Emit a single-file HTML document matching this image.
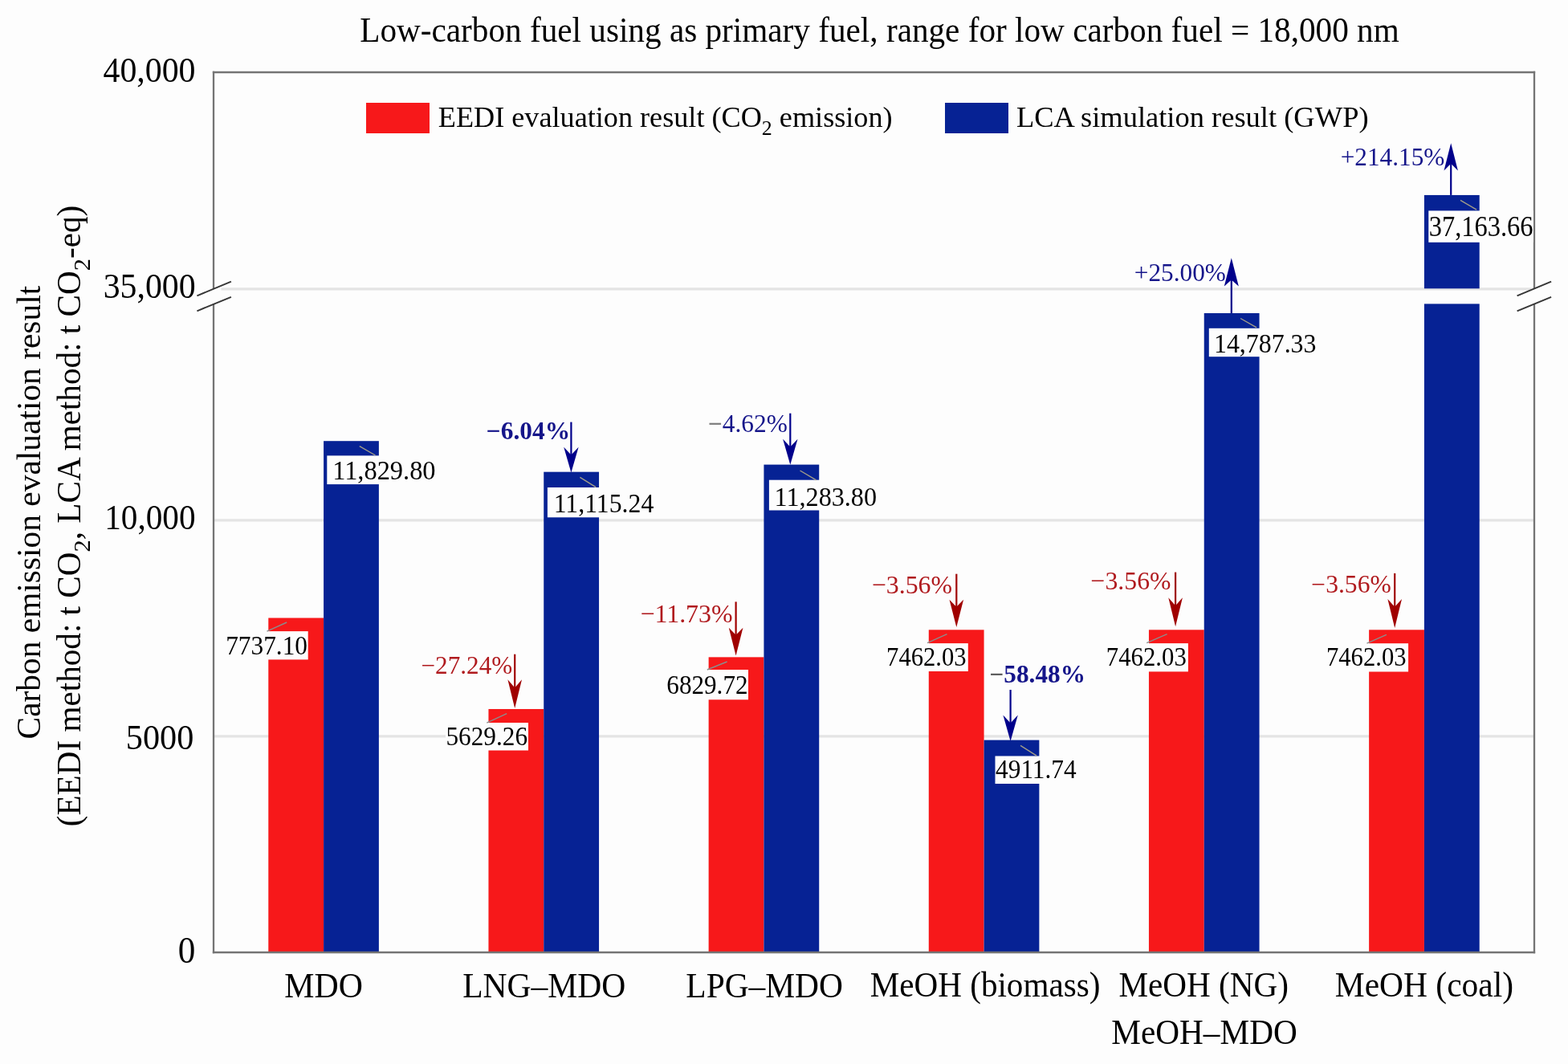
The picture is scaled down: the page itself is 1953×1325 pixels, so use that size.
<!DOCTYPE html><html><head><meta charset="utf-8"><title>Carbon emission evaluation result</title>
<style>html,body{margin:0;padding:0;background:#FDFDFD;overflow:hidden}svg{display:block}</style></head><body>
<svg width="1953" height="1325" viewBox="0 0 1953 1325" font-family="'Liberation Serif', 'Times New Roman', serif">
<rect width="1953" height="1325" fill="#FDFDFD"/>
<line x1="266.0" y1="916.8" x2="1911.0" y2="916.8" stroke="#E4E4E4" stroke-width="3.2"/>
<line x1="266.0" y1="647.8" x2="1911.0" y2="647.8" stroke="#E4E4E4" stroke-width="3.2"/>
<line x1="275.5" y1="359.8" x2="1907.6" y2="359.8" stroke="#E4E4E4" stroke-width="3.2"/>
<rect x="334.28" y="769.51" width="68.8" height="416.49" fill="#F7181A"/>
<rect x="403.08" y="549.20" width="68.8" height="636.80" fill="#062294"/>
<rect x="608.45" y="882.98" width="68.8" height="303.02" fill="#F7181A"/>
<rect x="677.25" y="587.67" width="68.8" height="598.33" fill="#062294"/>
<rect x="882.62" y="818.36" width="68.8" height="367.64" fill="#F7181A"/>
<rect x="951.42" y="578.59" width="68.8" height="607.41" fill="#062294"/>
<rect x="1156.78" y="784.32" width="68.8" height="401.68" fill="#F7181A"/>
<rect x="1225.58" y="921.60" width="68.8" height="264.40" fill="#062294"/>
<rect x="1430.95" y="784.32" width="68.8" height="401.68" fill="#F7181A"/>
<rect x="1499.75" y="390.00" width="68.8" height="796.00" fill="#062294"/>
<rect x="1705.12" y="784.32" width="68.8" height="401.68" fill="#F7181A"/>
<rect x="1773.92" y="242.94" width="68.8" height="116.36" fill="#062294"/>
<rect x="1773.92" y="378.4" width="68.8" height="807.60" fill="#062294"/>
<g stroke="#747474" stroke-width="2.3" fill="none" stroke-linecap="square">
<line x1="266.0" y1="90.0" x2="1911.0" y2="90.0"/>
<line x1="266.0" y1="1186.0" x2="1911.0" y2="1186.0"/>
<line x1="266.0" y1="90.0" x2="266.0" y2="358.6"/>
<line x1="266.0" y1="379.6" x2="266.0" y2="1186.0"/>
<line x1="1911.0" y1="90.0" x2="1911.0" y2="358.6"/>
<line x1="1911.0" y1="379.6" x2="1911.0" y2="1186.0"/>
</g>
<g stroke="#363636" stroke-width="2.0">
<line x1="245.4" y1="368.3" x2="287.9" y2="350.7"/>
<line x1="245.4" y1="387.3" x2="287.9" y2="369.8"/>
<line x1="1889.6" y1="368.3" x2="1932.1" y2="350.7"/>
<line x1="1889.6" y1="387.3" x2="1932.1" y2="369.8"/>
</g>
<rect x="456" y="128" width="79" height="38" fill="#F7181A"/>
<rect x="1177" y="128" width="79" height="38" fill="#062294"/>
<rect x="281" y="786.1" width="102.70" height="35.30" fill="#FDFDFD"/>
<line x1="332.5" y1="786.1" x2="357.2" y2="775" stroke="#8C8C8C" stroke-width="1.4"/>
<rect x="407.3" y="567.4" width="136.70" height="35.70" fill="#FDFDFD"/>
<line x1="447.8" y1="555.6" x2="467.5" y2="567" stroke="#A29D88" stroke-width="1.4"/>
<rect x="555" y="900" width="103.00" height="34.50" fill="#FDFDFD"/>
<line x1="606.3" y1="900.2" x2="631.2" y2="888.6" stroke="#8C8C8C" stroke-width="1.4"/>
<rect x="681.9" y="607" width="135.10" height="37.30" fill="#FDFDFD"/>
<line x1="722.4" y1="594.3" x2="742.1" y2="606.6" stroke="#A29D88" stroke-width="1.4"/>
<rect x="829.5" y="834" width="102.50" height="37.30" fill="#FDFDFD"/>
<line x1="880.8" y1="834" x2="905.6" y2="824" stroke="#8C8C8C" stroke-width="1.4"/>
<rect x="957.9" y="597.7" width="135.10" height="37.80" fill="#FDFDFD"/>
<line x1="996.5" y1="586" x2="1016.6" y2="597.9" stroke="#A29D88" stroke-width="1.4"/>
<rect x="1104" y="801.1" width="101.80" height="34.90" fill="#FDFDFD"/>
<line x1="1155" y1="800.7" x2="1179.5" y2="789.7" stroke="#8C8C8C" stroke-width="1.4"/>
<rect x="1239.5" y="941.5" width="103.50" height="34.50" fill="#FDFDFD"/>
<line x1="1271" y1="928.4" x2="1291.1" y2="941.1" stroke="#A29D88" stroke-width="1.4"/>
<rect x="1378" y="801.1" width="101.90" height="35.30" fill="#FDFDFD"/>
<line x1="1428.2" y1="800.7" x2="1453.6" y2="789.7" stroke="#8C8C8C" stroke-width="1.4"/>
<rect x="1505.8" y="408.8" width="135.20" height="35.40" fill="#FDFDFD"/>
<line x1="1545.1" y1="396.5" x2="1565.1" y2="407.9" stroke="#A29D88" stroke-width="1.4"/>
<rect x="1652" y="801.2" width="102.10" height="35.30" fill="#FDFDFD"/>
<line x1="1702.5" y1="801.2" x2="1726.9" y2="790.3" stroke="#8C8C8C" stroke-width="1.4"/>
<rect x="1779.3" y="262.4" width="130.60" height="39.40" fill="#FDFDFD"/>
<line x1="1819" y1="249.3" x2="1839.1" y2="261.2" stroke="#A29D88" stroke-width="1.4"/>
<line x1="641.2" y1="814.7" x2="641.2" y2="857.50" stroke="#A00000" stroke-width="2.2"/>
<path d="M641.2,881.9 L632.40,846.30 L641.2,856.50 L650.00,846.30 Z" fill="#A00000"/>
<line x1="916.6" y1="749.4" x2="916.6" y2="791.80" stroke="#A00000" stroke-width="2.2"/>
<path d="M916.6,816.6 L907.80,781.80 L916.6,790.80 L925.40,781.80 Z" fill="#A00000"/>
<line x1="1191.3" y1="714.7" x2="1191.3" y2="756.70" stroke="#A00000" stroke-width="2.2"/>
<path d="M1191.3,781.1 L1182.50,746.70 L1191.3,755.70 L1200.10,746.70 Z" fill="#A00000"/>
<line x1="1464.1" y1="712.6" x2="1464.1" y2="755.20" stroke="#A00000" stroke-width="2.2"/>
<path d="M1464.1,780.2 L1455.30,744.20 L1464.1,754.20 L1472.90,744.20 Z" fill="#A00000"/>
<line x1="1737.2" y1="713.9" x2="1737.2" y2="756.70" stroke="#A00000" stroke-width="2.2"/>
<path d="M1737.2,781.9 L1728.40,745.90 L1737.2,755.70 L1746.00,745.90 Z" fill="#A00000"/>
<line x1="711.4" y1="525.6" x2="711.4" y2="567.60" stroke="#00008B" stroke-width="2.2"/>
<path d="M711.4,588.6 L702.20,556.70 L711.4,566.60 L720.60,556.70 Z" fill="#00008B"/>
<line x1="984.3" y1="514.7" x2="984.3" y2="557.60" stroke="#00008B" stroke-width="2.2"/>
<path d="M984.3,578.7 L975.10,546.80 L984.3,556.60 L993.50,546.80 Z" fill="#00008B"/>
<line x1="1258.6" y1="859.0" x2="1258.6" y2="901.60" stroke="#00008B" stroke-width="2.2"/>
<path d="M1258.6,923.0 L1249.40,890.60 L1258.6,900.60 L1267.80,890.60 Z" fill="#00008B"/>
<line x1="1533.8" y1="390.0" x2="1533.8" y2="347.60" stroke="#00008B" stroke-width="2.2"/>
<path d="M1533.8,321.3 L1524.80,356.60 L1533.8,348.60 L1542.80,356.60 Z" fill="#00008B"/>
<line x1="1807.2" y1="242.9" x2="1807.2" y2="202.80" stroke="#00008B" stroke-width="2.2"/>
<path d="M1807.2,178.2 L1798.50,212.50 L1807.2,203.80 L1815.90,212.50 Z" fill="#00008B"/>
<text transform="translate(448.26,52.00) scale(1,1.07)" font-size="41.22" font-weight="normal" fill="#000">Low-carbon fuel using as primary fuel, range for low carbon fuel = 18,000 nm</text>
<text transform="translate(128.46,101.60) scale(1,1.07)" font-size="41.86" font-weight="normal" fill="#000">40,000</text>
<text transform="translate(128.66,371.20) scale(1,1.07)" font-size="41.79" font-weight="normal" fill="#000">35,000</text>
<text transform="translate(130.29,659.40) scale(1,1.07)" font-size="41.18" font-weight="normal" fill="#000">10,000</text>
<text transform="translate(156.86,932.70) scale(1,1.07)" font-size="42.26" font-weight="normal" fill="#000">5000</text>
<text transform="translate(221.78,1199.30) scale(1,1.07)" font-size="43.10" font-weight="normal" fill="#000">0</text>
<text transform="translate(354.35,1241.50) scale(1,1.07)" font-size="41.81" font-weight="normal" fill="#000">MDO</text>
<text transform="translate(576.15,1241.50) scale(1,1.07)" font-size="41.56" font-weight="normal" fill="#000">LNG–MDO</text>
<text transform="translate(854.36,1241.50) scale(1,1.07)" font-size="41.42" font-weight="normal" fill="#000">LPG–MDO</text>
<text transform="translate(1083.67,1241.30) scale(1,1.07)" font-size="41.14" font-weight="normal" fill="#000">MeOH (biomass)</text>
<text transform="translate(1393.47,1241.30) scale(1,1.07)" font-size="41.17" font-weight="normal" fill="#000">MeOH (NG)</text>
<text transform="translate(1662.86,1241.30) scale(1,1.07)" font-size="41.46" font-weight="normal" fill="#000">MeOH (coal)</text>
<text transform="translate(1384.26,1299.50) scale(1,1.07)" font-size="41.26" font-weight="normal" fill="#000">MeOH–MDO</text>
<text transform="translate(545.81,158.00) scale(1,1.01)" font-size="36.20" font-weight="normal" fill="#000">EEDI evaluation result (CO<tspan font-size="0.716em" dy="0.369em">2</tspan><tspan dy="-0.264em"> emission)</tspan></text>
<text transform="translate(1265.91,158.00) scale(1,1.01)" font-size="36.49" font-weight="normal" fill="#000">LCA simulation result (GWP)</text>
<text transform="translate(281.21,814.50) scale(1,1.07)" font-size="31.32" font-weight="normal" fill="#000">7737.10</text>
<text transform="translate(414.18,596.50) scale(1,1.07)" font-size="32.40" font-weight="normal" fill="#000">11,829.80</text>
<text transform="translate(555.42,927.50) scale(1,1.07)" font-size="31.27" font-weight="normal" fill="#000">5629.26</text>
<text transform="translate(689.64,637.80) scale(1,1.07)" font-size="31.75" font-weight="normal" fill="#000">11,115.24</text>
<text transform="translate(830.35,863.60) scale(1,1.07)" font-size="31.14" font-weight="normal" fill="#000">6829.72</text>
<text transform="translate(964.50,630.20) scale(1,1.07)" font-size="32.19" font-weight="normal" fill="#000">11,283.80</text>
<text transform="translate(1104.05,829.40) scale(1,1.07)" font-size="30.67" font-weight="normal" fill="#000">7462.03</text>
<text transform="translate(1240.07,969.00) scale(1,1.07)" font-size="31.32" font-weight="normal" fill="#000">4911.74</text>
<text transform="translate(1377.74,829.40) scale(1,1.07)" font-size="30.80" font-weight="normal" fill="#000">7462.03</text>
<text transform="translate(1511.93,438.50) scale(1,1.07)" font-size="31.91" font-weight="normal" fill="#000">14,787.33</text>
<text transform="translate(1651.95,829.40) scale(1,1.07)" font-size="30.67" font-weight="normal" fill="#000">7462.03</text>
<text transform="translate(1779.67,293.60) scale(1,1.07)" font-size="32.50" font-weight="normal" fill="#000">37,163.66</text>
<text transform="translate(524.54,838.90) scale(1,1.0)" font-size="31.18" font-weight="normal" fill="#B01A1E">−27.24%</text>
<text transform="translate(797.40,775.20) scale(1,1.0)" font-size="31.93" font-weight="normal" fill="#B01A1E">−11.73%</text>
<text transform="translate(1085.81,739.30) scale(1,1.0)" font-size="31.86" font-weight="normal" fill="#B01A1E">−3.56%</text>
<text transform="translate(1358.61,733.50) scale(1,1.0)" font-size="31.73" font-weight="normal" fill="#B01A1E">−3.56%</text>
<text transform="translate(1633.32,737.70) scale(1,1.0)" font-size="31.60" font-weight="normal" fill="#B01A1E">−3.56%</text>
<text transform="translate(605.83,547.30) scale(1,1.0)" font-size="31.42" font-weight="bold" fill="#15158A">−6.04%</text>
<text transform="translate(881.93,538.20) scale(1,1.0)" font-size="31.37" font-weight="normal" fill="#15158A"><tspan fill="#7d7d7d" font-weight="bold">−</tspan>4.62%</text>
<text transform="translate(1232.54,849.90) scale(1,1.0)" font-size="31.25" font-weight="bold" fill="#15158A"><tspan fill="#5a5a5a">−</tspan>58.48%</text>
<text transform="translate(1412.84,349.50) scale(1,1.0)" font-size="31.29" font-weight="normal" fill="#15158A">+25.00%</text>
<text transform="translate(1669.74,206.40) scale(1,1.0)" font-size="31.26" font-weight="normal" fill="#15158A">+214.15%</text>
<text transform="translate(49.60,920.46) rotate(-90)" font-size="41.41">Carbon emission evaluation result</text>
<text transform="translate(100.00,1029.25) rotate(-90)" font-size="41.16">(EEDI method: t CO<tspan font-size="0.74em" dy="0.38em">2</tspan><tspan dy="-0.281em">, LCA method: t CO</tspan><tspan font-size="0.74em" dy="0.38em">2</tspan><tspan dy="-0.281em">-eq)</tspan></text>
</svg></body></html>
